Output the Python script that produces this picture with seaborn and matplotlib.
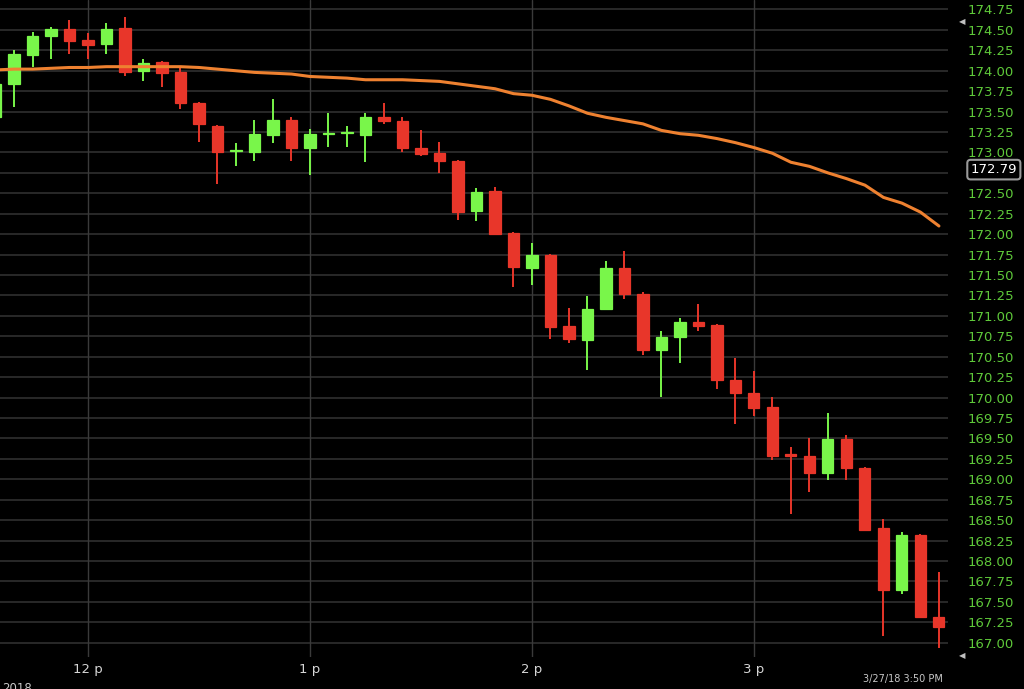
import numpy as np
import pandas as pd
import matplotlib
matplotlib.use("Agg")
import matplotlib.pyplot as plt
import seaborn as sns

# ---- data (5-minute candles, 3/27/18 11:35 - 15:50) ----
times = pd.date_range("2018-03-27 11:35", periods=52, freq="5min")
opens = [173.43, 173.84, 174.19, 174.42, 174.51, 174.38, 174.33, 174.52, 174.00, 174.11,
         173.98, 173.61, 173.32, 173.02, 173.01, 173.21, 173.40, 173.05, 173.23, 173.24,
         173.21, 173.43, 173.38, 173.06, 172.99, 172.89, 172.28, 172.53, 172.02, 171.59,
         171.75, 170.88, 170.71, 171.08, 171.59, 171.27, 170.58, 170.74, 170.92, 170.89,
         170.22, 170.06, 169.88, 169.31, 169.29, 169.08, 169.49, 169.14, 168.40, 167.64,
         168.32, 167.32]
highs = [173.84, 174.26, 174.47, 174.54, 174.62, 174.46, 174.59, 174.66, 174.15, 174.12,
         174.04, 173.62, 173.34, 173.11, 173.40, 173.65, 173.43, 173.29, 173.48, 173.33,
         173.48, 173.61, 173.43, 173.27, 173.13, 172.91, 172.56, 172.58, 172.03, 171.89,
         171.76, 171.10, 171.24, 171.67, 171.79, 171.29, 170.81, 170.98, 171.14, 170.90,
         170.49, 170.33, 170.01, 169.39, 169.50, 169.81, 169.54, 169.15, 168.51, 168.35,
         168.33, 167.87]
lows = [173.43, 173.56, 174.05, 174.15, 174.21, 174.14, 174.21, 173.94, 173.87, 173.80,
        173.53, 173.13, 172.62, 172.84, 172.89, 173.12, 172.89, 172.72, 173.07, 173.07,
        172.88, 173.35, 173.00, 172.96, 172.75, 172.17, 172.16, 171.99, 171.35, 171.38,
        170.72, 170.67, 170.34, 171.07, 171.21, 170.52, 170.01, 170.42, 170.81, 170.10,
        169.68, 169.77, 169.23, 168.57, 168.84, 168.99, 168.99, 168.37, 167.08, 167.60,
        167.31, 166.93]
closes = [173.84, 174.21, 174.42, 174.51, 174.36, 174.32, 174.51, 173.99, 174.09, 173.97,
          173.60, 173.35, 173.01, 173.03, 173.22, 173.40, 173.05, 173.23, 173.24, 173.25,
          173.43, 173.38, 173.05, 172.98, 172.89, 172.27, 172.51, 172.00, 171.60, 171.75,
          170.86, 170.72, 171.09, 171.59, 171.27, 170.58, 170.74, 170.93, 170.87, 170.21,
          170.05, 169.87, 169.28, 169.29, 169.08, 169.49, 169.14, 168.38, 167.64, 168.32,
          167.32, 167.19]
moving_avg = [174.01, 174.02, 174.02, 174.03, 174.04, 174.04, 174.05, 174.05, 174.05, 174.05,
              174.05, 174.04, 174.02, 174.00, 173.98, 173.97, 173.96, 173.93, 173.92, 173.91,
              173.89, 173.89, 173.89, 173.88, 173.87, 173.84, 173.81, 173.78, 173.72, 173.70,
              173.65, 173.57, 173.48, 173.43, 173.39, 173.35, 173.27, 173.23, 173.21, 173.17,
              173.12, 173.06, 172.99, 172.88, 172.83, 172.75, 172.68, 172.60, 172.45, 172.38,
              172.27, 172.10]
price_ticks = [167.00, 167.25, 167.50, 167.75, 168.00, 168.25, 168.50, 168.75, 169.00,
               169.25, 169.50, 169.75, 170.00, 170.25, 170.50, 170.75, 171.00, 171.25,
               171.50, 171.75, 172.00, 172.25, 172.50, 172.75, 173.00, 173.25, 173.50,
               173.75, 174.00, 174.25, 174.50, 174.75]
hidden_tick = 172.75  # covered by the last-price box in the reference
last_label = 172.79
date_label = "3/27/18 3:50 PM"
year_label = "2018"

# ---- style ----
GREEN = "#79f64a"
RED = "#e8362a"
ORANGE = "#ee8130"
TICK_GREEN = "#5fc93a"

sns.set_theme(style="dark")
plt.rcParams["font.family"] = ["DejaVu Sans"]

df = pd.DataFrame({"time": times, "open": opens, "high": highs,
                   "low": lows, "close": closes, "ma": moving_avg})
df["pos"] = np.arange(len(df))
df["up"] = df["close"] >= df["open"]
df["color"] = np.where(df["up"], GREEN, RED)

fig = plt.figure(figsize=(10.24, 6.89), dpi=100, facecolor="black")
ax = fig.add_axes([0, 32 / 689, 948 / 1024, 657 / 689])
ax.set_facecolor("black")

# wicks
ax.vlines(df["pos"], df["low"], df["high"], colors=df["color"], linewidth=1.4, zorder=3)
# bodies
body_bottom = np.minimum(df["open"], df["close"])
body_height = np.abs(df["close"] - df["open"])
ax.bar(df["pos"], body_height, bottom=body_bottom, width=0.6,
       color=df["color"], edgecolor=df["color"], linewidth=0.9, zorder=4)

# moving average
sns.lineplot(x=df["pos"], y=df["ma"], ax=ax, color=ORANGE, linewidth=2.2,
             zorder=5, legend=False)

# axes limits / ticks
ax.set_xlim(0.243, 51.49)
ax.set_ylim(166.825, 174.866)
ax.set_xlabel("")
ax.set_ylabel("")

hour_mask = df["time"].dt.minute == 0
hour_pos = df.loc[hour_mask, "pos"].tolist()
hour_lab = [f"{(h - 1) % 12 + 1} p" for h in df.loc[hour_mask, "time"].dt.hour]
ax.set_xticks(hour_pos)
ax.set_xticklabels(hour_lab)
ax.set_yticks(price_ticks)
ax.set_yticklabels(["" if abs(v - hidden_tick) < 1e-9 else f"{v:.2f}" for v in price_ticks])

ax.yaxis.tick_right()
ax.tick_params(axis="y", length=0, pad=14, labelsize=9.5, labelcolor=TICK_GREEN)
ax.tick_params(axis="x", length=0, pad=4, labelsize=9.5, labelcolor="#d6d6d6")

ax.grid(False)
for v in price_ticks:
    ax.axhline(v, color="#2c2c2c", linewidth=1.3, zorder=1)
for p in hour_pos:
    ax.axvline(p, color="#3a3a3a", linewidth=1.0, zorder=1)
for s in ax.spines.values():
    s.set_visible(False)

# last-price box
ax.annotate(f"{last_label:.2f}", xy=(1, last_label), xycoords=ax.get_yaxis_transform(),
            xytext=(33, 0), textcoords="offset points", ha="center", va="center",
            fontsize=9.5, color="white", annotation_clip=False,
            bbox=dict(boxstyle="round,pad=0.25", fc="black", ec="#9a9a9a", lw=1.5))

# small markers and labels
fig.text(962 / 1024, 1 - 22 / 689, "\u25C0", fontsize=6, color="#c0c0c0",
         ha="center", va="center")
fig.text(962 / 1024, 1 - 656 / 689, "\u25C0", fontsize=6, color="#c0c0c0",
         ha="center", va="center")
fig.text(903 / 1024, 1 - 679 / 689, date_label, fontsize=7, color="#c8c8c8",
         ha="center", va="center")
fig.text(2 / 1024, 1 - 689 / 689, year_label, fontsize=8.5, color="#c8c8c8",
         ha="left", va="center")

fig.savefig("out.png", dpi=100, facecolor="black")
